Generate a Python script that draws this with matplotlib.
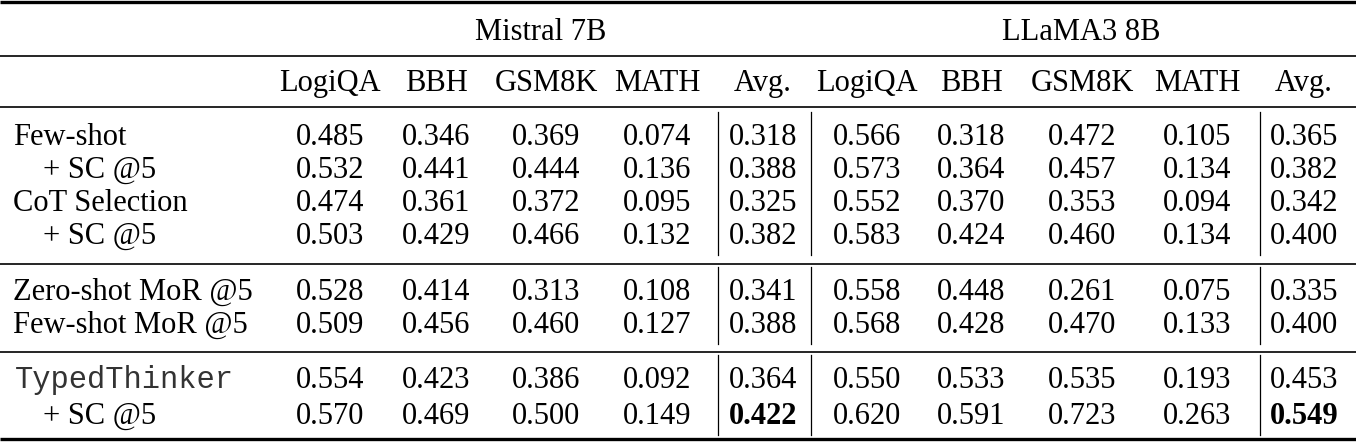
import matplotlib
matplotlib.use("Agg")
import matplotlib.pyplot as plt

# ── Data ──
models = ["Mistral 7B", "LLaMA3 8B"]
tasks = ["LogiQA", "BBH", "GSM8K", "MATH", "Avg."]
methods = ["Few-shot", "+ SC @5", "CoT Selection", "+ SC @5",
           "Zero-shot MoR @5", "Few-shot MoR @5",
           "TypedThinker", "+ SC @5"]
mistral = [
    ["0.485", "0.346", "0.369", "0.074", "0.318"],
    ["0.532", "0.441", "0.444", "0.136", "0.388"],
    ["0.474", "0.361", "0.372", "0.095", "0.325"],
    ["0.503", "0.429", "0.466", "0.132", "0.382"],
    ["0.528", "0.414", "0.313", "0.108", "0.341"],
    ["0.509", "0.456", "0.460", "0.127", "0.388"],
    ["0.554", "0.423", "0.386", "0.092", "0.364"],
    ["0.570", "0.469", "0.500", "0.149", "0.422"],
]
llama = [
    ["0.566", "0.318", "0.472", "0.105", "0.365"],
    ["0.573", "0.364", "0.457", "0.134", "0.382"],
    ["0.552", "0.370", "0.353", "0.094", "0.342"],
    ["0.583", "0.424", "0.460", "0.134", "0.400"],
    ["0.558", "0.448", "0.261", "0.075", "0.335"],
    ["0.568", "0.428", "0.470", "0.133", "0.400"],
    ["0.550", "0.533", "0.535", "0.193", "0.453"],
    ["0.620", "0.591", "0.723", "0.263", "0.549"],
]
groups = [[0, 1, 2, 3], [4, 5], [6, 7]]
bold_cells = [(7, 4)]  # best Avg. in both models

# ── Layout (pixels) ──
W, H = 1356, 443
FS = 22
serif = "Liberation Serif"
mono = "Liberation Mono"

col_x = [[330, 436, 546, 657, 763], [867, 971, 1082, 1197, 1304]]
model_x = [541, 1081]
row_y = [135, 168, 201, 234, 290, 323, 378, 414]
model_y, task_y = 30, 81
half_cap = 10
vlines_x = [718, 811, 1260]

fig = plt.figure(figsize=(W / 100, H / 100), dpi=100)
ax = fig.add_axes([0, 0, 1, 1])
ax.set_xlim(0, W)
ax.set_ylim(H, 0)
ax.axis("off")

# rules
for y, lw in [(2, 2.4), (56, 1.2), (107, 1.2), (264, 1.2), (352, 1.2), (439, 2.4)]:
    ax.plot([0, W], [y, y], color="black", lw=lw, solid_capstyle="butt")

# header
for name, x in zip(models, model_x):
    ax.text(x, model_y + half_cap, name, ha="center", va="baseline",
            fontsize=FS, family=serif)
for cols in col_x:
    for t, x in zip(tasks, cols):
        ax.text(x, task_y + half_cap, t, ha="center", va="baseline",
                fontsize=FS, family=serif)

# body
for i, (m, y) in enumerate(zip(methods, row_y)):
    if m.startswith("+"):
        ax.text(43, y + half_cap, m, ha="left", va="baseline", fontsize=FS, family=serif)
    elif m == "TypedThinker":
        ax.text(15, y + half_cap, m, ha="left", va="baseline", fontsize=FS,
                family=mono, color="#333333")
    else:
        ax.text(13, y + half_cap, m, ha="left", va="baseline", fontsize=FS, family=serif)
    for vals, cols in zip([mistral, llama], col_x):
        for j, (v, x) in enumerate(zip(vals[i], cols)):
            w = "bold" if (i, j) in bold_cells else "normal"
            ax.text(x, y + half_cap, v, ha="center", va="baseline",
                    fontsize=FS, family=serif, fontweight=w)

# vertical separators around Avg. columns
for g in groups:
    y0 = row_y[g[0]] - 23
    y1 = row_y[g[-1]] + 21
    for x in vlines_x:
        ax.plot([x, x], [y0, y1], color="black", lw=0.9)

fig.savefig("out.png", dpi=100)
